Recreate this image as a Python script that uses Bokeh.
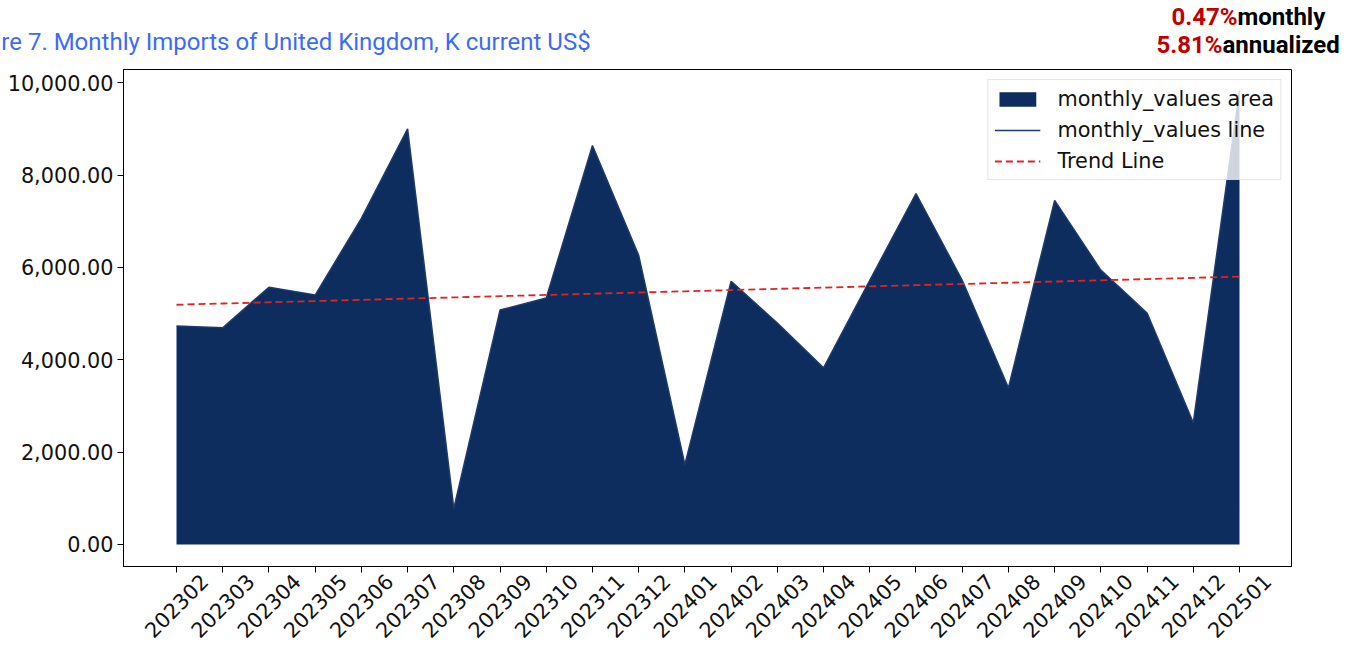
import numpy as np
from bokeh.plotting import figure
from bokeh.layouts import column
from bokeh.models import (Range1d, Label, Legend, LegendItem, LinearAxis,
                          NumeralTickFormatter, FixedTicker, ColumnDataSource,
                          CustomLabelingPolicy)
from bokeh.embed import file_html
from bokeh.resources import INLINE

months = ["202302", "202303", "202304", "202305", "202306", "202307", "202308",
          "202309", "202310", "202311", "202312", "202401", "202402", "202403",
          "202404", "202405", "202406", "202407", "202408", "202409", "202410",
          "202411", "202412", "202501"]
monthly_values = [4730, 4690, 5570, 5400, 7060, 9000, 780, 5075, 5335, 8640,
                  6260, 1730, 5700, 4795, 3823, 5720, 7600, 5720, 3390, 7450,
                  5940, 5010, 2635, 9830]
y_ticks = [0, 2000, 4000, 6000, 8000, 10000]
title_text = "Figure 7. Monthly Imports of United Kingdom, K current US$"
monthly_rate = "0.47%"
annual_rate = "5.81%"

idx = list(range(len(months)))
coef = np.polyfit(idx, monthly_values, 1)
trend_values = list(np.polyval(coef, idx))

src = ColumnDataSource(dict(x=idx, y=monthly_values, trend=trend_values,
                            zero=[0] * len(months)))

W = 1350
HEAD_H = 61
MAIN_H = 586
TICK_FONT = "20.8px"

# ---------- header (title + growth annotation) ----------
head = figure(width=W, height=HEAD_H, output_backend="svg", toolbar_location=None,
              x_range=Range1d(0, W), y_range=Range1d(0, HEAD_H),
              x_axis_location=None, y_axis_location=None,
              min_border=0, min_border_left=0, min_border_right=0,
              min_border_top=0, min_border_bottom=0, frame_align=False)
head.outline_line_color = None
head.xgrid.visible = False
head.ygrid.visible = False
head.background_fill_color = "white"
head.border_fill_color = "white"

head.add_layout(Label(x=-45, y=19.3, x_units="screen", y_units="screen",
                      text=title_text, text_font="Roboto", text_font_size="24px",
                      text_color="#3b6cf5", text_align="left",
                      text_baseline="alphabetic"))
ann = dict(x_units="screen", y_units="screen", text_font="Roboto",
           text_font_style="bold", text_font_size="24px",
           text_baseline="alphabetic")
head.add_layout(Label(x=1237, y=44.7, text=monthly_rate, text_color="#c00000",
                      text_align="right", **ann))
head.add_layout(Label(x=1237, y=44.7, text="monthly", text_color="black",
                      text_align="left", **ann))
head.add_layout(Label(x=1222, y=16.7, text=annual_rate, text_color="#c00000",
                      text_align="right", **ann))
head.add_layout(Label(x=1222, y=16.7, text="annualized", text_color="black",
                      text_align="left", **ann))

# ---------- main chart ----------
p = figure(width=W, height=MAIN_H, output_backend="svg", toolbar_location=None,
           x_range=Range1d(-1.147, 24.125), y_range=Range1d(-478, 10285),
           min_border_left=123, min_border_right=59, min_border_top=8,
           min_border_bottom=80, frame_align=False)
p.background_fill_color = "white"
p.border_fill_color = "white"
p.outline_line_color = "black"
p.outline_line_width = 1
p.xgrid.visible = False
p.ygrid.visible = False

area = p.varea(x="x", y1="zero", y2="y", source=src, fill_color="#0d2d5e")
line = p.line(x="x", y="y", source=src, line_color="#1f3a6c", line_width=1.5)
trend = p.line(x="x", y="trend", source=src, line_color="#e02424",
               line_width=1.8, line_dash="7 4")

for ax in (p.xaxis[0], p.yaxis[0]):
    ax.major_label_text_font = "DejaVu Sans"
    ax.major_label_text_font_size = TICK_FONT
    ax.major_label_text_color = "#111111"
    ax.axis_line_color = "black"
    ax.major_tick_line_color = "black"
    ax.major_tick_out = 6
    ax.major_tick_in = 0
    ax.minor_tick_line_color = None

p.yaxis.ticker = FixedTicker(ticks=y_ticks)
p.yaxis.formatter = NumeralTickFormatter(format="0,0.00")
p.yaxis.major_label_standoff = 4

# main x axis: tick marks only (labels suppressed)
p.xaxis.ticker = FixedTicker(ticks=idx)
p.xaxis.major_label_standoff = 0
p.xaxis.major_label_text_font_size = "0px"
p.xaxis.major_label_policy = CustomLabelingPolicy(code="""
    for (const i of indices) { indices.unset(i) }
    return indices
""")

# label axis: month labels, shifted so each rotated label is centred on its tick
shift = 0.6
p.extra_x_ranges = {"lab": Range1d(-1.147 - shift, 24.125 - shift)}
lab_axis = LinearAxis(x_range_name="lab", ticker=FixedTicker(ticks=idx),
                      major_label_overrides={i: m for i, m in zip(idx, months)},
                      major_label_orientation=np.pi / 4,
                      major_label_text_font="DejaVu Sans",
                      major_label_text_font_size=TICK_FONT,
                      major_label_text_color="#111111",
                      major_label_standoff=5,
                      axis_line_color=None, major_tick_line_color=None,
                      minor_tick_line_color=None, major_tick_out=0)
p.add_layout(lab_axis, "below")

legend = Legend(items=[LegendItem(label="monthly_values area", renderers=[area]),
                       LegendItem(label="monthly_values line", renderers=[line]),
                       LegendItem(label="Trend Line", renderers=[trend])],
                location="top_right", margin=10, padding=6, spacing=6,
                glyph_width=46, glyph_height=18, label_height=25,
                label_standoff=17,
                label_text_font="DejaVu Sans", label_text_font_size=TICK_FONT,
                label_text_color="#111111",
                border_line_color="#cccccc", border_line_width=1,
                background_fill_color="white", background_fill_alpha=0.8)
p.add_layout(legend)

layout = column(head, p, spacing=0)
open("out.html", "w").write(file_html(layout, INLINE))
